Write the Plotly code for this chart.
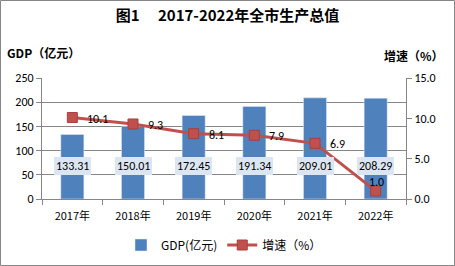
import plotly.graph_objects as go

years = ["2017年", "2018年", "2019年", "2020年", "2021年", "2022年"]
gdp = [133.31, 150.01, 172.45, 191.34, 209.01, 208.29]
growth = [10.1, 9.3, 8.1, 7.9, 6.9, 1.0]
gdp_labels = ["133.31", "150.01", "172.45", "191.34", "209.01", "208.29"]
growth_labels = ["10.1", "9.3", "8.1", "7.9", "6.9", "1.0"]

W, H = 455, 266
L, R, T, B = 42, 49, 78, 67
pw, ph = W - L - R, H - T - B

def px_x(p):
    return (p - L) / pw

def px_y(p):
    return (H - B - p) / ph

FONT = "Calibri, Carlito, 'Noto Sans CJK SC', sans-serif"
CJK = "'Noto Sans CJK SC', sans-serif"

fig = go.Figure()
fig.add_trace(go.Bar(
    x=years, y=gdp, name="GDP(亿元)", marker=dict(color="#4F81BD"),
    width=0.38, yaxis="y",
))
fig.add_trace(go.Scatter(
    x=years, y=growth, name="增速（%）", yaxis="y2", mode="lines+markers",
    line=dict(color="#C0504D", width=3),
    marker=dict(symbol="square", size=10, color="#C0504D", line=dict(color="#A5403D", width=1)),
    cliponaxis=False,
))

annotations = []
for yr, lab in zip(years, gdp_labels):
    annotations.append(dict(
        x=yr, y=68, xref="x", yref="y", text=lab, showarrow=False,
        font=dict(size=12, color="#000000", family=FONT),
        bgcolor="#DCE6F2", borderwidth=0, borderpad=2,
    ))

n = len(years)
for i, (yr, val, lab) in enumerate(zip(years, growth, growth_labels)):
    if i == n - 1:
        annotations.append(dict(
            x=yr, y=val, xref="x", yref="y2", text=lab, showarrow=False,
            xanchor="center", yanchor="middle", yshift=9, xshift=1,
            font=dict(size=12, color="#000000", family=FONT)))
    else:
        annotations.append(dict(
            x=yr, y=val, xref="x", yref="y2", text=lab, showarrow=False,
            xanchor="left", yanchor="middle", xshift=13, yshift=-1,
            font=dict(size=12, color="#000000", family=FONT)))

annotations += [
    dict(x=px_x(5), y=px_y(52), xref="paper", yref="paper", xanchor="left", yanchor="middle",
         text="<b>GDP（亿元）</b>", showarrow=False,
         font=dict(size=12, family=CJK, color="#000000")),
    dict(x=px_x(446), y=px_y(55), xref="paper", yref="paper", xanchor="right", yanchor="middle",
         text="<b>增速（%）</b>", showarrow=False,
         font=dict(size=12, family=CJK, color="#000000")),
]

fig.update_layout(
    width=W, height=H,
    margin=dict(l=L, r=R, t=T, b=B, autoexpand=False),
    paper_bgcolor="white", plot_bgcolor="white",
    showlegend=True,
    legend=dict(orientation="h", x=0.5, xanchor="center", y=px_y(245), yanchor="middle",
                font=dict(size=12, family=CJK, color="#000000"), itemwidth=30,
                tracegroupgap=0),
    title=dict(text="<b>图1\u3000 2017-2022年全市生产总值</b>", x=0.5, xanchor="center",
               y=1 - 16 / H, yanchor="middle",
               font=dict(size=15, color="#000000", family=CJK)),
    xaxis=dict(
        showline=True, linecolor="#868686", linewidth=1,
        ticks="outside", ticklen=5, tickcolor="#868686",
        tickson="boundaries", ticklabelstandoff=7, automargin=False,
        tickfont=dict(size=11, family=CJK, color="#000000"),
        showgrid=False,
    ),
    yaxis=dict(
        range=[0, 250], dtick=50, showgrid=True, gridcolor="#868686", gridwidth=1,
        showline=True, linecolor="#868686", ticks="outside", ticklen=5, tickcolor="#868686",
        tickfont=dict(size=12, family=FONT, color="#000000"), zeroline=False, automargin=False,
    ),
    yaxis2=dict(
        range=[0, 15], dtick=5, overlaying="y", side="right", showgrid=False,
        showline=True, linecolor="#868686", ticks="outside", ticklen=5, tickcolor="#868686",
        tickformat=".1f", automargin=False,
        tickfont=dict(size=12, family=FONT, color="#000000"), zeroline=False,
    ),
    annotations=annotations,
    shapes=[dict(type="rect", xref="paper", yref="paper",
                 x0=px_x(0.5), x1=px_x(454.5), y0=px_y(265.5), y1=px_y(0.5),
                 line=dict(color="#868686", width=1), layer="below")],
)

fig.write_html("out.html")
